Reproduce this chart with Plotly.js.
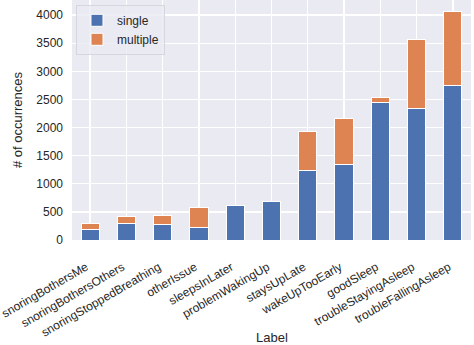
<!DOCTYPE html>
<html>
<head>
<meta charset="utf-8">
<script src="https://cdn.plot.ly/plotly-3.0.1.min.js"></script>
<style>html,body{margin:0;padding:0;background:#fff;}#chart{width:474px;height:345px;}</style>
</head>
<body>
<div id="chart"></div>
<script>
const categories = ["snoringBothersMe","snoringBothersOthers","snoringStoppedBreathing","otherIssue","sleepsInLater","problemWakingUp","staysUpLate","wakeUpTooEarly","goodSleep","troubleStayingAsleep","troubleFallingAsleep"];
const singleValues = [190, 291, 279, 220, 615, 683, 1244, 1351, 2443, 2336, 2750];
const multipleValues = [112, 136, 160, 367, 0, 0, 688, 818, 94, 1227, 1316];
const yTicks = [0, 500, 1000, 1500, 2000, 2500, 3000, 3500, 4000];

const font = "Liberation Sans, Arial, Helvetica, sans-serif";
const traces = [
  {type: "bar", name: "single", x: categories, y: singleValues,
   marker: {color: "#4C72B0", line: {color: "#ffffff", width: 1}}, width: 0.5},
  {type: "bar", name: "multiple", x: categories, y: multipleValues,
   marker: {color: "#DD8452", line: {color: "#ffffff", width: 1}}, width: 0.5}
];
const layout = {
  width: 474, height: 345,
  margin: {l: 72, r: 3, t: 0, b: 105},
  barmode: "stack",
  paper_bgcolor: "#ffffff",
  plot_bgcolor: "#EAEAF2",
  font: {family: font, size: 12, color: "#262626"},
  showlegend: true,
  legend: {x: 0.01, y: 0.98, xanchor: "left", yanchor: "top",
           bgcolor: "rgba(234,234,242,0.8)", bordercolor: "#d6d6e0", borderwidth: 1,
           font: {family: font, size: 12, color: "#262626"}, traceorder: "normal"},
  xaxis: {
    type: "category", range: [-0.5, 10.5],
    showgrid: true, gridcolor: "#ffffff", gridwidth: 1.4,
    zeroline: false, showline: false, ticks: "",
    tickangle: -30, ticklabelstandoff: 17, ticklabelshift: -4,
    tickfont: {family: font, size: 12, color: "#262626"},
    title: {text: ""}
  },
  yaxis: {
    range: [0, 4270], tickvals: yTicks, ticktext: yTicks.map(String),
    showgrid: true, gridcolor: "#ffffff", gridwidth: 1.4,
    zeroline: false, showline: false, ticks: "",
    ticklabelstandoff: 8,
    tickfont: {family: font, size: 12, color: "#262626"},
    title: {text: "# of occurrences", font: {family: font, size: 13, color: "#262626"}, standoff: 10}
  },
  annotations: [
    {text: "Label", xref: "paper", yref: "paper", x: 0.5, y: -0.405, xanchor: "center", yanchor: "middle",
     showarrow: false, font: {family: font, size: 13, color: "#262626"}}
  ]
};
Plotly.newPlot("chart", traces, layout, {displayModeBar: false, staticPlot: true});
</script>
</body>
</html>
